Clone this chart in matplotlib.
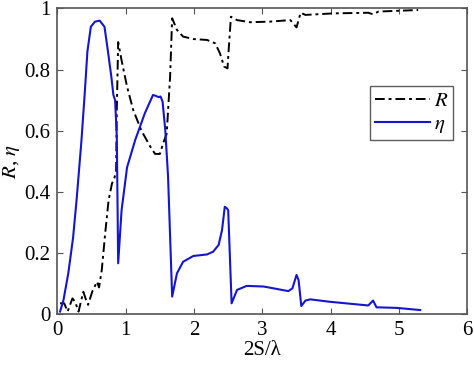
import matplotlib
matplotlib.use("Agg")
import matplotlib.pyplot as plt
from matplotlib.ticker import FuncFormatter

# reflectance R (dash-dot)
r_x = [0.04, 0.10, 0.15, 0.22, 0.26, 0.31, 0.38, 0.42, 0.45, 0.51, 0.58, 0.61, 0.65,
       0.70, 0.75, 0.80, 0.83, 0.86, 0.87, 0.89, 0.94, 1.02, 1.11, 1.23, 1.36, 1.43,
       1.50, 1.55, 1.60, 1.65, 1.68, 1.75, 1.84, 1.99, 2.19, 2.31, 2.38, 2.44, 2.49,
       2.51, 2.54, 2.63, 2.82, 3.11, 3.41, 3.50, 3.56, 3.63, 4.04, 4.55, 4.62, 4.70, 5.28]
r_y = [0.035, 0.035, 0.008, 0.051, 0.040, 0.008, 0.073, 0.046, 0.030, 0.073, 0.106, 0.087, 0.144,
       0.264, 0.373, 0.428, 0.440, 0.470, 0.670, 0.890, 0.830, 0.744, 0.668, 0.600, 0.548, 0.524,
       0.524, 0.560, 0.590, 0.777, 0.968, 0.930, 0.908, 0.900, 0.897, 0.886, 0.853, 0.810, 0.804,
       0.875, 0.973, 0.962, 0.955, 0.957, 0.962, 0.938, 0.986, 0.979, 0.984, 0.986, 0.981, 0.990, 0.995]

# efficiency eta (solid blue)
eta_x = [0.04, 0.09, 0.16, 0.23, 0.28, 0.35, 0.40, 0.44, 0.49, 0.55, 0.62, 0.69, 0.74,
         0.79, 0.82, 0.845, 0.87, 0.89, 0.94, 1.02, 1.14, 1.28, 1.40, 1.44, 1.48, 1.51,
         1.54, 1.58, 1.62, 1.68, 1.75, 1.84, 1.99, 2.19, 2.28, 2.36, 2.41, 2.45, 2.48,
         2.50, 2.55, 2.63, 2.77, 3.02, 3.38, 3.44, 3.50, 3.53, 3.57, 3.63, 3.70, 3.99,
         4.55, 4.62, 4.67, 4.97, 5.31]
eta_y = [0.008, 0.046, 0.133, 0.25, 0.37, 0.56, 0.72, 0.86, 0.94, 0.957, 0.96, 0.94, 0.86,
         0.777, 0.717, 0.70, 0.58, 0.166, 0.34, 0.48, 0.57, 0.657, 0.717, 0.714, 0.71, 0.712,
         0.695, 0.60, 0.45, 0.057, 0.133, 0.171, 0.19, 0.195, 0.204, 0.226, 0.275, 0.351, 0.346,
         0.34, 0.035, 0.079, 0.092, 0.09, 0.075, 0.084, 0.128, 0.111, 0.026, 0.044, 0.048, 0.04,
         0.028, 0.044, 0.022, 0.02, 0.013]

plt.rcParams['font.family'] = ['Liberation Serif', 'DejaVu Sans']
plt.rcParams['mathtext.fontset'] = 'stix'
plt.rcParams['font.size'] = 14

fig = plt.figure(figsize=(4.74, 3.69), dpi=100)
ax = fig.add_axes([0.121, 0.149, 0.865, 0.828])

ax.plot(r_x, r_y, color='black', lw=1.4, dashes=(5, 2, 1.5, 2), label='$R$')
ax.plot(eta_x, eta_y, color='#1515d0', lw=1.5, label=r'$\eta$')

ax.set_xlim(0, 6)
ax.set_ylim(0, 1)
ax.set_xticks(range(7))
ax.set_yticks([0, 0.2, 0.4, 0.6, 0.8, 1])
ax.yaxis.set_major_formatter(FuncFormatter(lambda v, p: f"{v:g}"))
ax.tick_params(direction='in', top=True, right=True, length=4, color='#555555',
               labelsize=15, pad=5)
for s in ax.spines.values():
    s.set_color('#555555')
    s.set_linewidth(1.2)

ax.set_xlabel('2S/λ', fontsize=15, labelpad=1)
ax.set_ylabel('$R$, $\\eta$', fontsize=15, labelpad=2)

leg = ax.legend(loc='upper left', bbox_to_anchor=(0.763, 0.745), fontsize=15,
                frameon=True, fancybox=False, handlelength=2.6, handletextpad=0.2,
                borderpad=0.25, labelspacing=0.15, borderaxespad=0)
leg.get_frame().set_edgecolor('#333333')
leg.get_frame().set_linewidth(1.0)

fig.savefig('out.png', dpi=100)
